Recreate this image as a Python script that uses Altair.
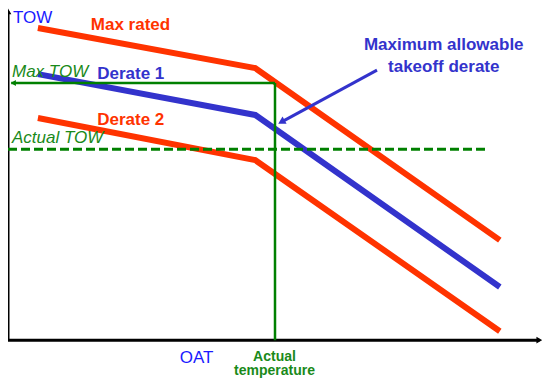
import altair as alt
import pandas as pd

# ---- data (abstract units: OAT on x, TOW on y) ----
series_names = ["Max rated", "Derate 1", "Derate 2"]
oat_points = [5.6, 46.3, 92.1]
tow_max_rated = [94.0, 81.9, 30.1]
tow_derate1 = [80.1, 67.8, 16.0]
tow_derate2 = [66.9, 54.2, 2.7]
series_colors = ["#ff3300", "#3333cc", "#ff3300"]

max_tow = 77.4
actual_tow = 57.5
actual_temp = 50.0
dashed_end = 89.7
axis_x_max = 99.5
axis_y_max = 99.0

RED = "#ff3300"
BLUE = "#3333cc"
GREEN_LINE = "#008000"
GREEN_TEXT = "#1a8a1a"
FONT = "Liberation Sans"

rows = []
for name, vals in zip(series_names, [tow_max_rated, tow_derate1, tow_derate2]):
    for i, (xv, yv) in enumerate(zip(oat_points, vals)):
        rows.append({"series": name, "x": xv, "y": yv, "o": i})
lines_df = pd.DataFrame(rows)

X = alt.Scale(domain=[0, 100])
Y = alt.Scale(domain=[-11.7, 100])


def xe(f="x"):
    return alt.X(f"{f}:Q", scale=X, axis=None)


def ye(f="y"):
    return alt.Y(f"{f}:Q", scale=Y, axis=None)


# axes
axes_df = pd.DataFrame({"x": [0, 0, axis_x_max], "y": [axis_y_max, 0, 0], "o": [0, 1, 2]})
axes = alt.Chart(axes_df).mark_line(color="black", strokeWidth=3).encode(
    x=xe(), y=ye(), order="o:Q"
)
arrow_up = alt.Chart(pd.DataFrame({"x": [0], "y": [axis_y_max]})).mark_point(
    shape="triangle-up", filled=True, color="black", size=45, opacity=1
).encode(x=xe(), y=ye())
arrow_right = alt.Chart(pd.DataFrame({"x": [axis_x_max], "y": [0]})).mark_point(
    shape="triangle-right", filled=True, color="black", size=45, opacity=1
).encode(x=xe(), y=ye())

# series lines
series_lines = alt.Chart(lines_df).mark_line(strokeWidth=6, strokeCap="butt").encode(
    x=xe(),
    y=ye(),
    color=alt.Color(
        "series:N",
        scale=alt.Scale(domain=series_names, range=series_colors),
        legend=None,
    ),
    detail="series:N",
    order="o:Q",
)

# green reference lines
max_tow_df = pd.DataFrame({"x": [0.6], "x2": [actual_temp], "y": [max_tow]})
max_tow_line = alt.Chart(max_tow_df).mark_rule(color=GREEN_LINE, strokeWidth=2.5).encode(
    x=xe(), x2="x2:Q", y=ye()
)
max_tow_arrow = alt.Chart(pd.DataFrame({"x": [1.0], "y": [max_tow]})).mark_point(
    shape="triangle-left", filled=True, color=GREEN_LINE, size=35, opacity=1
).encode(x=xe(), y=ye())
temp_df = pd.DataFrame({"x": [actual_temp], "y": [0], "y2": [max_tow]})
temp_line = alt.Chart(temp_df).mark_rule(color=GREEN_LINE, strokeWidth=2.5).encode(
    x=xe(), y=ye(), y2="y2:Q"
)
act_df = pd.DataFrame({"x": [0], "x2": [dashed_end], "y": [actual_tow]})
act_line = alt.Chart(act_df).mark_rule(
    color=GREEN_LINE, strokeWidth=3, strokeDash=[9, 4]
).encode(x=xe(), x2="x2:Q", y=ye())

# annotation arrow
ann_df = pd.DataFrame({"x": [69.1, 51.6], "y": [81.3, 66.0], "o": [0, 1]})
ann_line = alt.Chart(ann_df).mark_line(color=BLUE, strokeWidth=3).encode(
    x=xe(), y=ye(), order="o:Q"
)
ann_head = alt.Chart(pd.DataFrame({"x": [51.2], "y": [65.7]})).mark_point(
    shape="triangle-up", filled=True, color=BLUE, size=70, angle=241, opacity=1
).encode(x=xe(), y=ye())


def label(text, x, y, color, size=17, weight="normal", style="normal", align="left"):
    return alt.Chart(pd.DataFrame({"x": [x], "y": [y], "t": [text]})).mark_text(
        font=FONT,
        fontSize=size,
        fontWeight=weight,
        fontStyle=style,
        color=color,
        align=align,
        baseline="alphabetic",
    ).encode(x=xe(), y=ye(), text="t:N")


labels = [
    label("TOW", 0.94, 95.5, "#1a1aff"),
    label("Max rated", 15.5, 93.4, RED, weight="bold"),
    label("Derate 1", 16.7, 78.6, BLUE, weight="bold"),
    label("Derate 2", 16.7, 64.8, RED, weight="bold"),
    label("Max TOW", 0.75, 79.2, GREEN_TEXT, style="italic"),
    label("Actual TOW", 0.75, 59.3, GREEN_TEXT, style="italic"),
    label("Maximum allowable", 81.6, 87.3, BLUE, weight="bold", align="center"),
    label("takeoff derate", 81.6, 80.7, BLUE, weight="bold", align="center"),
    label("OAT", 35.3, -6.9, "#1a1aff", align="center"),
    label("Actual", 49.9, -6.2, GREEN_TEXT, size=14, weight="bold", align="center"),
    label("temperature", 49.9, -10.6, GREEN_TEXT, size=14, weight="bold", align="center"),
]

chart = alt.layer(
    axes,
    arrow_up,
    arrow_right,
    series_lines,
    act_line,
    max_tow_line,
    temp_line,
    max_tow_arrow,
    ann_line,
    ann_head,
    *labels,
).properties(
    width=534,
    height=371,
    padding=0,
    autosize=alt.AutoSizeParams(type="none"),
    background="white",
).configure_view(stroke=None)

chart.save("out.html", embed_options={"renderer": "svg", "actions": False})
